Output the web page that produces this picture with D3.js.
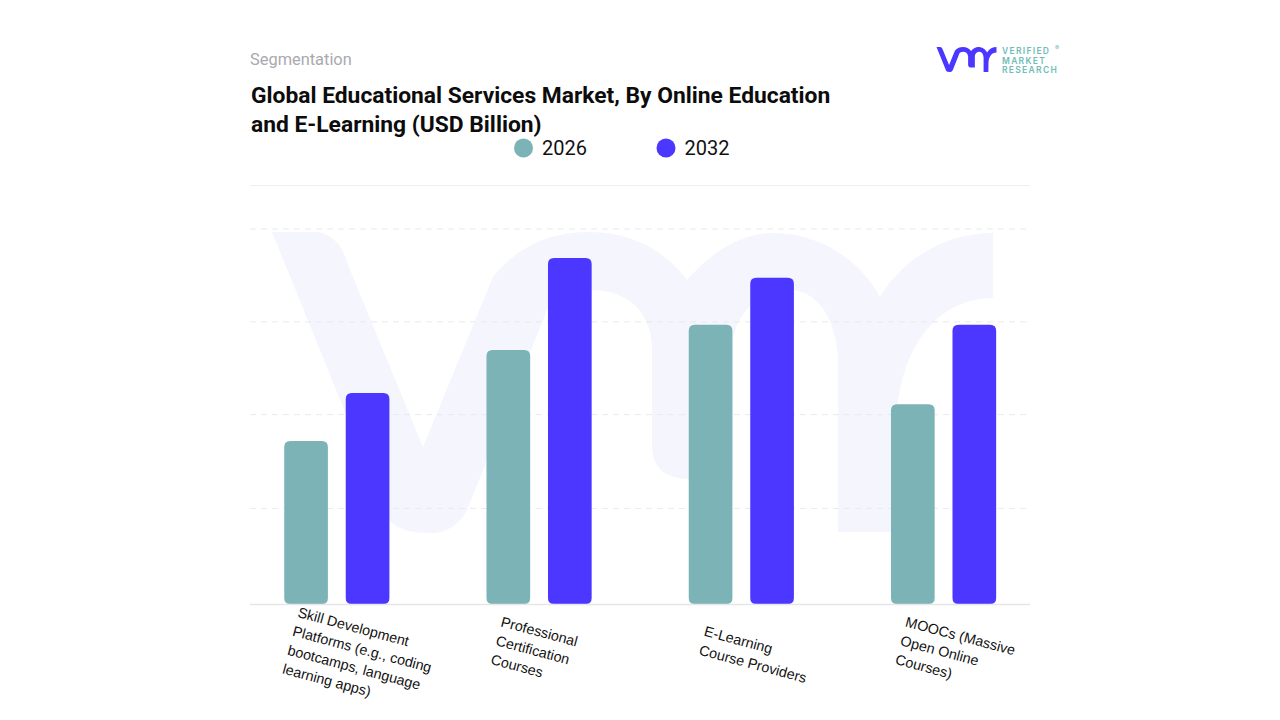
<!DOCTYPE html>
<html>
<head>
<meta charset="utf-8">
<script src="https://cdn.jsdelivr.net/npm/d3@7"></script>
<style>
    html, body { margin: 0; background: #fff; }
    svg { display: block; font-family: Inter, "Noto Sans", sans-serif; }
</style>
</head>
<body>
<svg id="chart"></svg>
<script>
// data (USD Billion, no value axis shown so units are estimated)
const categoryLines = [
    ['Skill Development', 'Platforms (e.g., coding', 'bootcamps, language', 'learning apps)'],
    ['Professional', 'Certification', 'Courses'],
    ['E-Learning', 'Course Providers'],
    ['MOOCs (Massive', 'Open Online', 'Courses)']
];
const categories = categoryLines.map(d => d.join(' '));
const seriesNames = ['2026', '2032'];
const values2026 = [1.74, 2.71, 2.98, 2.13];
const values2032 = [2.25, 3.69, 3.48, 2.98];
const gridTicks = [1.02, 2.02, 3.01, 4];

const colors = ['#7bb3b7', '#4b37ff'];
const config = {
    width: 1280,
    height: 720,
    left: 250,
    right: 1030,
    top: 229,
    bottom: 604
};

// 0) define svg
let svg = d3.select('#chart')
    .attr('width', config.width)
    .attr('height', config.height);

// 1) create scales
let x0 = d3.scaleBand()
    .domain(categories)
    .range([235.7, 1044.7])
    .paddingInner(0.48)
    .paddingOuter(0.24);

let x1 = d3.scaleBand()
    .domain(seriesNames)
    .range([0, x0.bandwidth()])
    .paddingInner(0.29);

let yScale = d3.scaleLinear()
    .domain([0, 4])
    .range([config.bottom, config.top]);

// 2) watermark logo behind the plot, outline
const vmrOutline = 'M272 232 L318 232 Q340 236 348 265 L423 447 L493 277 C520 243 555 232 590 232 '
    + 'C630 232 665 250 687 280 C715 248 745 233 773 233 C820 233 860 260 880 297 '
    + 'C905 255 950 233 993 233 L993 298 C945 298 905 335 897 410 L895 532 L838 532 L838 357 '
    + 'C835 315 815 290 790 290 C760 290 733 315 733 345 L733 479 L690 479 Q652 479 652 445 '
    + 'L652 345 C650 310 625 290 593 290 C570 290 553 300 547 310 L467 510 Q455 533 430 533 '
    + 'Q400 533 389 520 Z';

svg.append('path')
    .attr('d', vmrOutline)
    .style('fill', '#f4f5fd');

// 3) grid lines
svg.append('g')
    .selectAll('line')
    .data(gridTicks)
    .enter()
    .append('line')
    .attr('x1', config.left)
    .attr('x2', config.right)
    .attr('y1', d => yScale(d))
    .attr('y2', d => yScale(d))
    .style('stroke', '#e9e9ee')
    .style('stroke-width', 1)
    .style('stroke-dasharray', '6 5');

svg.append('line')
    .attr('x1', config.left)
    .attr('x2', config.right)
    .attr('y1', 185.5)
    .attr('y2', 185.5)
    .style('stroke', '#eeeeee');

// 4) bars
const rows = categories.map((c, i) => ({
    category: c,
    bars: [
        { name: seriesNames[0], value: values2026[i] },
        { name: seriesNames[1], value: values2032[i] }
    ]
}));

let groups = svg.append('g')
    .selectAll('g')
    .data(rows)
    .enter()
    .append('g')
    .attr('transform', d => `translate(${x0(d.category)},0)`);

groups.selectAll('path')
    .data(d => d.bars)
    .enter()
    .append('path')
    .attr('d', d => {
        const x = x1(d.name), w = x1.bandwidth(), t = yScale(d.value), b = yScale(0), r = 6;
        return `M${x} ${b - r}V${t + r}Q${x} ${t} ${x + r} ${t}H${x + w - r}Q${x + w} ${t} ${x + w} ${t + r}`
            + `V${b - r}Q${x + w} ${b} ${x + w - r} ${b}H${x + r}Q${x} ${b} ${x} ${b - r}Z`;
    })
    .style('fill', (d, i) => colors[i]);

// 5) x axis with rotated, wrapped labels
let xAxis = svg.append('g')
    .attr('transform', `translate(0,${config.bottom})`)
    .call(d3.axisBottom(x0).tickSize(0).tickFormat(''));

xAxis.select('.domain')
    .attr('d', `M${config.left} 0.5H${config.right}`)
    .style('stroke', '#e6e6ea')
    .style('stroke-width', 1.5);

const lineHeight = 19.5;
xAxis.selectAll('.tick text')
    .data(categoryLines)
    .attr('y', 0)
    .attr('dy', null)
    .attr('text-anchor', 'start')
    .attr('transform', d => `translate(${-44 + (3 - d.length) * 3.5},41) rotate(15)`)
    .style('font-size', '14.3px')
    .style('fill', '#111')
    .selectAll('tspan')
    .data(d => d.map((line, i) => ({ line, i, n: d.length })))
    .enter()
    .append('tspan')
    .attr('x', 0)
    .attr('y', d => (d.i - (d.n - 1) / 2) * lineHeight)
    .text(d => d.line);

// 6) title block
svg.append('text')
    .attr('x', 250)
    .attr('y', 65)
    .text('Segmentation')
    .style('font-family', 'Roboto')
    .style('font-size', '16.4px')
    .style('fill', '#a9a9ae');

const titleLines = ['Global Educational Services Market, By Online Education', 'and E-Learning (USD Billion)'];
svg.append('text')
    .selectAll('tspan')
    .data(titleLines)
    .enter()
    .append('tspan')
    .attr('x', 251)
    .attr('y', (d, i) => 103 + i * 28.5)
    .text(d => d)
    .style('font-family', 'Roboto')
    .style('font-size', '22.8px')
    .style('font-weight', 700)
    .style('fill', '#0c0c0c');

// 7) legend
const legendX = d3.scaleOrdinal().domain(seriesNames).range([523.5, 666]);
let legend = svg.append('g')
    .selectAll('g')
    .data(seriesNames)
    .enter()
    .append('g')
    .attr('transform', d => `translate(${legendX(d)},148)`);

legend.append('circle')
    .attr('r', 9.5)
    .style('fill', (d, i) => colors[i]);

legend.append('text')
    .attr('x', 18.5)
    .attr('y', 7)
    .text(d => d)
    .style('font-family', 'Roboto')
    .style('font-size', '20px')
    .style('fill', '#111');

// 8) logo top right, same outline scaled down
svg.append('path')
    .attr('d', vmrOutline)
    .attr('transform', 'translate(936.5,47) scale(0.0832) translate(-272,-232)')
    .style('fill', '#4b37ff');

const logoLines = ['VERIFIED', 'MARKET', 'RESEARCH'];
svg.append('text')
    .selectAll('tspan')
    .data(logoLines)
    .enter()
    .append('tspan')
    .attr('x', 1002)
    .attr('y', (d, i) => 54 + i * 9.5)
    .text(d => d)
    .style('font-size', '8.5px')
    .style('font-weight', 600)
    .style('letter-spacing', '1.3px')
    .style('fill', '#6fbdb7');

svg.append('text')
    .attr('x', 1055)
    .attr('y', 50)
    .text('®')
    .style('font-size', '6px')
    .style('fill', '#6fbdb7');
</script>
</body>
</html>
